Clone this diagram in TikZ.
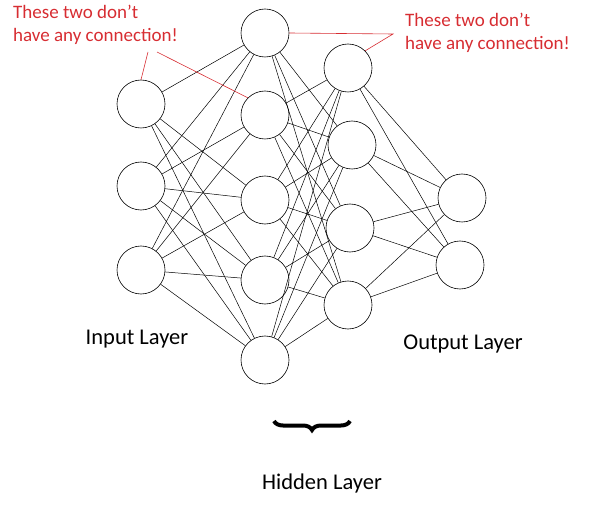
\documentclass[tikz,border=0pt]{standalone}
\usepackage{fontspec}
\setmainfont{Carlito}
\usetikzlibrary{decorations.pathreplacing}
\definecolor{annot}{RGB}{215,45,50}
\begin{document}
\begin{tikzpicture}[x=1pt,y=-1pt,
  neuron/.style={draw,circle,minimum size=48pt,inner sep=0pt,line width=0.6pt},
  edge/.style={line width=0.5pt},
  redline/.style={draw=annot,line width=0.6pt},
  redtext/.style={text=annot,font=\fontsize{19}{23}\selectfont,align=left,inner sep=0pt},
  lbl/.style={font=\fontsize{22.5}{26}\selectfont,inner sep=0pt}]
\useasboundingbox (0,0) rectangle (616,505);
\node[neuron] (i1) at (141,104) {};
\node[neuron] (i2) at (141,186) {};
\node[neuron] (i3) at (141,270) {};
\node[neuron] (a1) at (265,33) {};
\node[neuron] (a2) at (265,115) {};
\node[neuron] (a3) at (265,200) {};
\node[neuron] (a4) at (265,280) {};
\node[neuron] (a5) at (265,360) {};
\node[neuron] (b1) at (348,68) {};
\node[neuron] (b2) at (352,145) {};
\node[neuron] (b3) at (350,228) {};
\node[neuron] (b4) at (348,305) {};
\node[neuron] (o1) at (462,198) {};
\node[neuron] (o2) at (460,265) {};
\foreach \i in {1,2,3}{\foreach \a in {1,...,5}{
  \ifnum\i\a=12\else\draw[edge] (i\i) -- (a\a);\fi}}
\foreach \a in {1,...,5}{\foreach \b in {1,...,4}{
  \ifnum\a\b=11\else\draw[edge] (a\a) -- (b\b);\fi}}
\foreach \b in {1,...,4}{\foreach \o in {1,2}{\draw[edge] (b\b) -- (o\o);}}
\node[redtext,anchor=north west] (t1) at (13,5) {These two don't\\have any connection!};
\node[redtext,anchor=north west] (t2) at (405,13) {These two don't\\have any connection!};
\coordinate (l1) at (148,52);
\coordinate (l2) at (157,52);
\coordinate (r1) at (393,34);
\draw[redline] (l1) -- (i1.north);
\draw[redline] (l2) -- (a2.north west);
\draw[redline] (a1.east) -- (r1) -- (b1.north east);
\node[lbl,anchor=base] (inl) at (137,344) {Input Layer};
\node[lbl,anchor=base] (outl) at (463,349) {Output Layer};
\node[lbl,anchor=base] (hidl) at (322,489) {Hidden Layer};
\coordinate (br1) at (350,421);
\coordinate (br2) at (274,421);
\draw[line width=4pt,decorate,decoration={brace,amplitude=9pt}] (br1) -- (br2);
\end{tikzpicture}
\end{document}
